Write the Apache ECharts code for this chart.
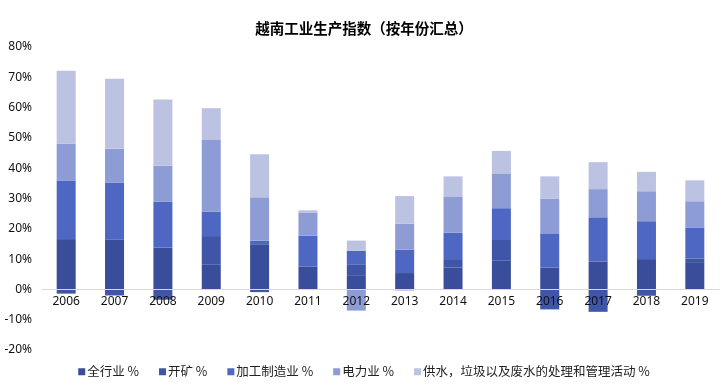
<!DOCTYPE html>
<html>
<head>
<meta charset="utf-8">
<script src="https://cdn.jsdelivr.net/npm/echarts@6/dist/echarts.min.js"></script>
<style>html,body{margin:0;padding:0;background:#fff;}#c{width:728px;height:389px;}</style>
</head>
<body>
<div id="c"></div>
<script>
var years = ['2006','2007','2008','2009','2010','2011','2012','2013','2014','2015','2016','2017','2018','2019'];
var seriesNames = ['全行业 %','开矿 %','加工制造业 %','电力业 %','供水，垃圾以及废水的处理和管理活动 %'];
var allIndustry   = [16.6, 16.5, 13.8, 8.3, 14.9, 7.6, 4.7, 5.4, 7.2, 9.6, 7.2, 9.2, 10.0, 9.0];
var mining        = [-1.4, -2.0, -3.4, 9.3, -0.9, 0, 3.6, -0.3, 2.8, 6.7, -6.6, -7.4, -2.1, 1.2];
var manufacturing = [19.3, 18.8, 15.2, 8.1, 1.2, 10.1, 4.4, 7.7, 8.7, 10.5, 11.3, 14.6, 12.5, 10.1];
var electricity   = [12.2, 11.1, 11.8, 23.6, 14.3, 7.7, -7.0, 8.6, 12.0, 11.5, 11.5, 9.3, 9.9, 8.8];
var water         = [24.1, 23.1, 21.9, 10.5, 14.2, 0.7, 3.4, 9.1, 6.6, 7.4, 7.3, 8.9, 6.4, 6.9];
var yTicks = {min: -20, max: 80, interval: 10};
var colors = ['#3a4d9a', '#3f56a8', '#4d67c3', '#8e9cd5', '#bcc2e2'];

var dataSets = [allIndustry, mining, manufacturing, electricity, water];
var chart = echarts.init(document.getElementById('c'));
chart.setOption({
  animation: false,
  color: colors,
  title: {
    text: '越南工业生产指数（按年份汇总）',
    left: 'center',
    top: 16,
    textStyle: {fontSize: 14.5, fontWeight: 'bold', color: '#000', fontFamily: 'Noto Sans CJK SC'}
  },
  legend: {
    bottom: 6,
    left: 'center',
    itemWidth: 7,
    itemHeight: 7,
    itemGap: 20,
    icon: 'rect',
    textStyle: {fontSize: 12.5, color: '#222', fontFamily: 'Noto Sans CJK SC', padding: [0,0,0,-3]},
    data: seriesNames
  },
  grid: {left: 42, right: 9, top: 47, bottom: 39, containLabel: false},
  xAxis: {
    type: 'category',
    data: years,
    z: 10,
    axisLine: {onZero: true, lineStyle: {color: '#d9d9d9', width: 1}},
    axisTick: {show: false},
    axisLabel: {color: '#111', fontSize: 12, fontFamily: 'Noto Sans', margin: -54}
  },
  yAxis: {
    type: 'value',
    min: yTicks.min,
    max: yTicks.max,
    interval: yTicks.interval,
    splitLine: {show: false},
    axisLine: {show: false},
    axisTick: {show: false},
    axisLabel: {formatter: '{value}%', color: '#111', fontSize: 12, fontFamily: 'Noto Sans', margin: 10}
  },
  series: seriesNames.map(function (n, i) {
    return {
      name: n,
      type: 'bar',
      stack: 'total',
      barWidth: 19,
      data: dataSets[i],
      itemStyle: {color: colors[i]}
    };
  })
});
</script>
</body>
</html>
